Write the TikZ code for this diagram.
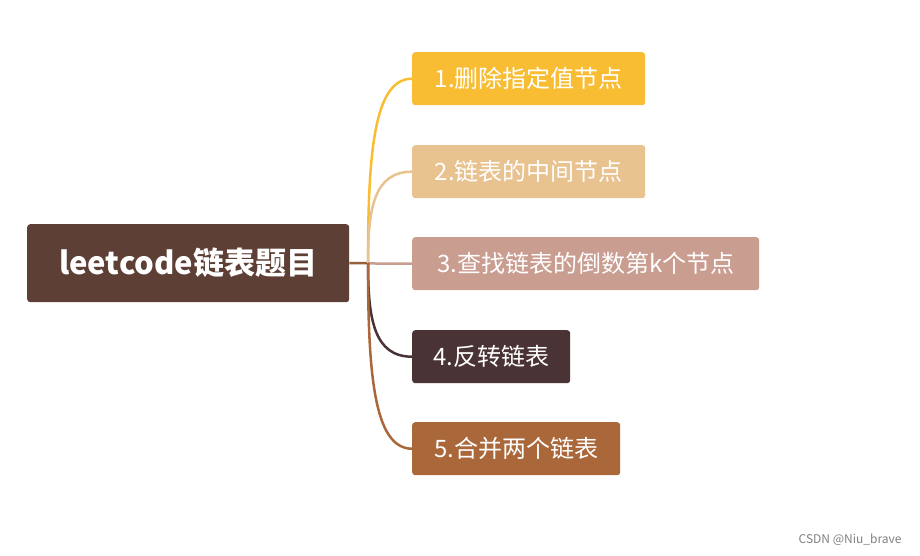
\documentclass[tikz,border=0pt]{standalone}
\usepackage{fontspec}
\usetikzlibrary{calc}
\setmainfont{Noto Sans CJK SC}
\definecolor{cr}{HTML}{5E3F35}
\definecolor{c1}{HTML}{F8BD32}
\definecolor{c2}{HTML}{E8C28F}
\definecolor{c3}{HTML}{C99D90}
\definecolor{c4}{HTML}{4A3334}
\definecolor{c5}{HTML}{A9673A}
\begin{document}
\begin{tikzpicture}[x=1pt,y=-1pt,
  box/.style={rounded corners=3pt,text=white,inner sep=0pt,font=\fontsize{24}{28}\selectfont,anchor=north west},
  link/.style={line width=2.5pt}]
\useasboundingbox (0,0) rectangle (920,556);
\node[box,fill=cr,minimum width=322pt,minimum height=78pt,font=\bfseries\fontsize{31}{36}\selectfont] (r) at (27,224) {leetcode链表题目};
\node[box,fill=c1,minimum width=233pt,minimum height=53pt] (a) at (412,52) {1.删除指定值节点};
\node[box,fill=c2,minimum width=233pt,minimum height=53pt] (b) at (412,145) {2.链表的中间节点};
\node[box,fill=c3,minimum width=347pt,minimum height=53pt] (c) at (412,237) {3.查找链表的倒数第k个节点};
\node[box,fill=c4,minimum width=158pt,minimum height=53pt] (d) at (412,330) {4.反转链表};
\node[box,fill=c5,minimum width=208pt,minimum height=53pt] (e) at (412,422) {5.合并两个链表};
\coordinate (j) at (368,263);
\draw[link,color=c5!80!cr] (r.east) -- (j);
\foreach \n/\c in {a/c1,b/c2,c/c3,d/c4,e/c5}
  \draw[link,color=\c] (j) .. controls ($(j)!0.6!(j|-\n.west)$) and ($(j|-\n.west)+(6,0)$) .. (\n.west);
\node[text=gray,font=\fontsize{12}{14}\selectfont,anchor=east] (w) at (905,540) {CSDN @Niu\_brave};
\end{tikzpicture}
\end{document}
